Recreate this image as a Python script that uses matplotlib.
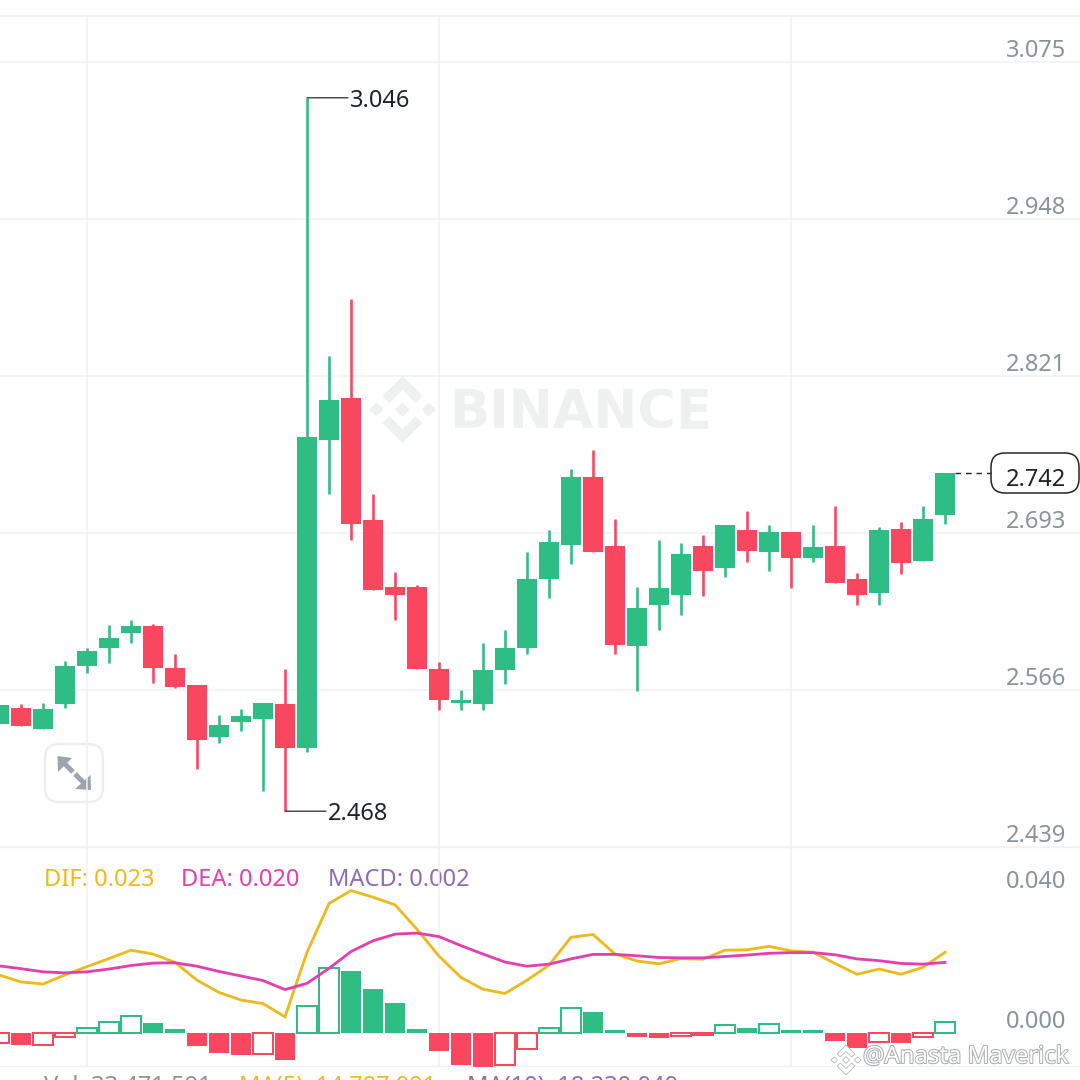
import matplotlib
matplotlib.use("Agg")
import matplotlib.pyplot as plt
import matplotlib.patheffects as pe
from matplotlib.patches import FancyBboxPatch, Polygon
import numpy as np

# --- DATA ---
opens = [2.539, 2.552, 2.535, 2.555, 2.586, 2.600, 2.612, 2.618, 2.584, 2.570, 2.528,
         2.540, 2.543, 2.555, 2.519, 2.769, 2.803, 2.704, 2.650, 2.650, 2.583, 2.556,
         2.555, 2.582, 2.600, 2.656, 2.684, 2.739, 2.683, 2.602, 2.635, 2.643, 2.683,
         2.665, 2.696, 2.678, 2.694, 2.673, 2.683, 2.656, 2.645, 2.697, 2.671, 2.708]
highs = [2.561, 2.555, 2.556, 2.590, 2.600, 2.619, 2.623, 2.620, 2.595, 2.570, 2.546,
         2.551, 2.556, 2.583, 3.046, 2.837, 2.883, 2.725, 2.662, 2.651, 2.589, 2.566,
         2.604, 2.615, 2.678, 2.696, 2.745, 2.761, 2.705, 2.650, 2.688, 2.685, 2.692,
         2.700, 2.711, 2.700, 2.694, 2.700, 2.715, 2.661, 2.698, 2.702, 2.715, 2.742]
lows = [2.539, 2.537, 2.535, 2.552, 2.580, 2.588, 2.604, 2.572, 2.568, 2.502, 2.523,
        2.533, 2.484, 2.468, 2.516, 2.725, 2.688, 2.647, 2.623, 2.583, 2.550, 2.550,
        2.550, 2.571, 2.595, 2.641, 2.668, 2.678, 2.595, 2.565, 2.615, 2.627, 2.642,
        2.658, 2.670, 2.663, 2.649, 2.670, 2.653, 2.635, 2.635, 2.660, 2.671, 2.701]
closes = [2.554, 2.537, 2.551, 2.586, 2.598, 2.608, 2.618, 2.584, 2.569, 2.526, 2.538,
          2.545, 2.556, 2.519, 2.771, 2.801, 2.701, 2.647, 2.643, 2.583, 2.558, 2.558,
          2.582, 2.600, 2.656, 2.686, 2.739, 2.678, 2.603, 2.633, 2.649, 2.676, 2.663,
          2.700, 2.679, 2.694, 2.673, 2.682, 2.653, 2.643, 2.696, 2.669, 2.705, 2.742]

dif = [.0165, .0145, .0139, .0165, .0189, .0212, .0236, .0225, .0201, .0150, .0115,
       .0093, .0083, .0045, .0230, .0370, .0407, .0388, .0366, .0296, .0219, .0158,
       .0124, .0112, .0150, .0193, .0273, .0281, .0225, .0205, .0197, .0212, .0210,
       .0236, .0237, .0247, .0234, .0230, .0198, .0167, .0182, .0167, .0187, .0230]
dea = [.0191, .0183, .0174, .0171, .0174, .0182, .0192, .0199, .0200, .0190, .0175,
       .0162, .0149, .0123, .0141, .0184, .0232, .0263, .0282, .0285, .0275, .0249,
       .0225, .0202, .0190, .0196, .0211, .0224, .0224, .0220, .0215, .0214, .0214,
       .0218, .0222, .0227, .0229, .0229, .0223, .0211, .0206, .0198, .0196, .0201]
macd = [-.0029, -.0036, -.0035, -.0013, .0014, .0031, .0048, .0027, .0009, -.0040, -.0059,
        -.0065, -.0062, -.0078, .0077, .0185, .0176, .0126, .0084, .0011, -.0053, -.0092,
        -.0099, -.0093, -.0047, .0012, .0069, .0059, .0008, -.0014, -.0017, -.0011, -.0007,
        .0021, .0014, .0023, .0008, .0008, -.0023, -.0044, -.0026, -.0029, -.0013, .0029]

price_ticks = [3.075, 2.948, 2.821, 2.693, 2.566, 2.439]
macd_ticks = [0.040, 0.000]
vgrid_idx = [4, 20, 36]
high_idx, low_idx = 14, 13
last_price = 2.742
macd_legend = ["DIF: 0.023", "DEA: 0.020", "MACD: 0.002"]
vol_legend = ["Vol: 33,471,591", "MA(5): 14,787,091", "MA(10): 18,230,040"]

# --- STYLE ---
GREEN = "#2EBD85"
RED = "#F9475F"
GOLD = "#EDB91B"
PINK = "#E23FAF"
PURPLE = "#8F6BB8"
GRID = "#F0F1F4"
AXIS_TEXT = "#8A929E"
DARK = "#1E2329"
FONT = "Noto Sans"
plt.rcParams["font.family"] = [FONT, "DejaVu Sans"]

W, H = 1080, 1080
PX = 0.72  # one pixel in points at dpi 100
TOP, SPLIT, BOTTOM = 16, 847, 1067
XLIM = (1 / 22, 1081 / 22)


def add_px_axes(fig, top, bottom, zorder):
    ax = fig.add_axes([0, 1 - bottom / H, 1, (bottom - top) / H], zorder=zorder)
    ax.patch.set_alpha(0)
    ax.set_xlim(*XLIM)
    ax.set_xticks([])
    ax.set_yticks([])
    for s in ax.spines.values():
        s.set_visible(False)
    return ax


def add_overlay(fig, zorder):
    ov = fig.add_axes([0, 0, 1, 1], zorder=zorder)
    ov.set_xlim(0, W)
    ov.set_ylim(H, 0)
    ov.axis("off")
    return ov


def draw_logo(ax, cx, cy, r, face, edge="none", lw=0):
    """Binance diamond logo, r = half of the total extent in px."""
    u = r / 33.5
    shapes = [
        [(0, -7.5), (7.5, 0), (0, 7.5), (-7.5, 0)],
        [(-26, -7), (-19, 0), (-26, 7), (-33.5, 0)],
        [(26, -7), (33.5, 0), (26, 7), (19, 0)],
        [(0, -33.5), (20, -13.5), (13, -6.5), (0, -19.5), (-13, -6.5), (-20, -13.5)],
        [(0, 33.5), (20, 13.5), (13, 6.5), (0, 19.5), (-13, 6.5), (-20, 13.5)],
    ]
    for pts in shapes:
        ax.add_patch(Polygon([(cx + x * u, cy + y * u) for x, y in pts], closed=True,
                             facecolor=face, edgecolor=edge, linewidth=lw))


def axis_label(ax, value):
    ax.annotate(f"{value:.3f}", (1066 / W, value), xycoords=("figure fraction", "data"),
                xytext=(0, 11 * PX), textcoords="offset points", ha="right", va="center",
                fontsize=17, color=AXIS_TEXT, zorder=5)


def main():
    fig = plt.figure(figsize=(W / 100, H / 100), dpi=100, facecolor="white")

    # backdrop in pixel coordinates: watermark and legends
    back = add_overlay(fig, 0)
    draw_logo(back, 402.5, 409.5, 33.5, "#EFF1F1")
    back.text(449, 428, "BINANCE", family="DejaVu Sans", fontweight="bold", fontsize=37.8,
              color="#EFF1F1", ha="left", va="baseline")

    # --- price pane ---
    ax = add_px_axes(fig, TOP, SPLIT, 4)
    per_px = (3.075 - 2.439) / (847 - 62)
    ax.set_ylim(2.439, 2.439 + (SPLIT - TOP) * per_px)
    for p in price_ticks:
        ax.axhline(p, color=GRID, lw=1.5 * PX, zorder=1)
        axis_label(ax, p)
    ax.axhline(ax.get_ylim()[1], color=GRID, lw=2 * PX, zorder=1, clip_on=False)
    for i in vgrid_idx:
        ax.axvline(i, color=GRID, lw=1.5 * PX, zorder=1)

    x = np.arange(len(opens))
    o, h, l, c = map(np.array, (opens, highs, lows, closes))
    colors = [GREEN if cc >= oo else RED for oo, cc in zip(o, c)]
    ax.vlines(x, l, h, colors=colors, lw=2.6 * PX, zorder=3)
    ax.bar(x, np.abs(c - o), bottom=np.minimum(o, c), width=0.89, color=colors,
           linewidth=0, zorder=4)

    # high / low callouts
    for idx, val in ((high_idx, highs[high_idx]), (low_idx, lows[low_idx])):
        ax.annotate("", (idx, val), xytext=(41 * PX, 0), textcoords="offset points",
                    arrowprops=dict(arrowstyle="-", color=DARK, lw=1.2 * PX, shrinkA=0, shrinkB=0))
        ax.annotate(f"{val:.3f}", (idx, val), xytext=(43 * PX, -3 * PX), textcoords="offset points",
                    ha="left", va="center", fontsize=17, color=DARK, zorder=6)

    # last price tag
    last_x = len(opens) - 1 + 0.445
    ax.plot([last_x, 991 / 22 + 1 / 22], [last_price, last_price], color=DARK,
            lw=1.4 * PX, ls=(0, (4, 3.5)), zorder=5)
    over = add_overlay(fig, 3)
    over.add_patch(FancyBboxPatch((1001, 463), 68, 20, boxstyle="round,pad=10,rounding_size=14",
                                  facecolor="white", edgecolor=DARK, linewidth=1.5 * PX))
    ax.annotate(f"{last_price:.3f}", (1066 / W, last_price), xycoords=("figure fraction", "data"),
                xytext=(0, -7 * PX), textcoords="offset points", ha="right", va="center",
                fontsize=17, color=DARK, zorder=9, annotation_clip=False)

    # expand button
    over.add_patch(FancyBboxPatch((57, 756), 34, 34, boxstyle="round,pad=12,rounding_size=14",
                                  facecolor="white", edgecolor="#EDEEF0", linewidth=2.4 * PX))
    arrow = "#9EA4AE"
    over.add_patch(Polygon([(57.5, 756), (72, 758), (58, 772)], facecolor=arrow, edgecolor="none"))
    over.add_patch(Polygon([(91, 790), (75, 789), (90.5, 775)], facecolor=arrow, edgecolor="none"))
    over.plot([63, 73], [762, 772], color=arrow, lw=5 * PX, solid_capstyle="butt")
    over.plot([75, 85], [774, 784], color=arrow, lw=5 * PX, solid_capstyle="butt")

    # --- MACD pane ---
    ax2 = add_px_axes(fig, SPLIT, BOTTOM, 1)
    macd_per_px = 0.040 / (1032.5 - 893)
    ax2.set_ylim(-(BOTTOM - 1032.5) * macd_per_px, (1032.5 - SPLIT) * macd_per_px)
    for i in vgrid_idx:
        ax2.axvline(i, color=GRID, lw=1.5 * PX, zorder=1)
    ax2.axhline(ax2.get_ylim()[0], color=GRID, lw=2.5 * PX, zorder=1)
    ax2.axhline(ax2.get_ylim()[1], color=GRID, lw=2.5 * PX, zorder=1)

    vals = np.array(macd)
    rising = vals > np.concatenate(([vals[0] - 1], vals[:-1]))
    bar_colors = [GREEN if v >= 0 else RED for v in vals]
    ax2.bar(x[~rising], vals[~rising], width=0.89, linewidth=0, zorder=2,
            color=[bar_colors[i] for i in x[~rising]])
    ax2.bar(x[rising], vals[rising], width=0.87, facecolor="white", linewidth=2 * PX, zorder=2,
            edgecolor=[bar_colors[i] for i in x[rising]])
    ax2.plot(x, dif, color=GOLD, lw=2.8 * PX, zorder=3, solid_joinstyle="miter")
    ax2.plot(x, dea, color=PINK, lw=2.8 * PX, zorder=4)

    for p in macd_ticks:
        axis_label(ax2, p)

    # pane legends
    for tx, label, col in zip((44, 181, 328), macd_legend, (GOLD, PINK, PURPLE)):
        back.text(tx, 880, label, color=col, fontsize=17, ha="left", va="center")
    for tx, label, col in zip((44, 239, 467), vol_legend, (AXIS_TEXT, GOLD, PURPLE)):
        back.text(tx, 1087, label, color=col, fontsize=17, ha="left", va="center", clip_on=True)

    # footer username watermark
    top = add_overlay(fig, 6)
    draw_logo(top, 846, 1060, 15, "white", edge="#B5B8BC", lw=0.6)
    top.text(863, 1057, "@Anasta Maverick", fontsize=17.2, color="white", ha="left", va="center",
             path_effects=[pe.withStroke(linewidth=1.4, foreground="#A8ABB0")])

    fig.savefig("out.png", dpi=100)


if __name__ == "__main__":
    main()
